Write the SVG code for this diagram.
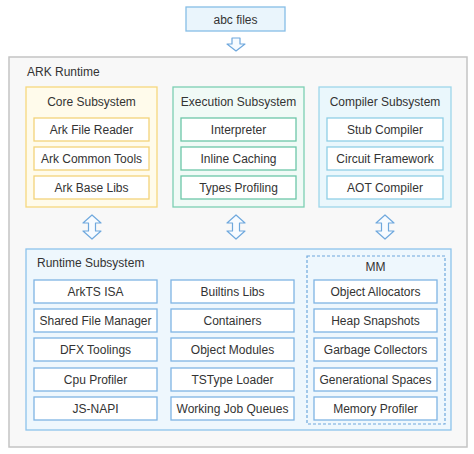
<svg xmlns="http://www.w3.org/2000/svg" width="474" height="454" viewBox="0 0 474 454">
<style>
text{font-family:"Liberation Sans",Arial,sans-serif;font-size:12px;fill:#333;text-anchor:middle}
.t{text-anchor:start}
.ib{fill:#fff;stroke-width:1.3}
.core{stroke:#f3d37a}
.exe{stroke:#6cc7a8}
.cmp{stroke:#8fcfe6}
.rt{stroke:#7fb4e4}
.arr{fill:#f7fbff;stroke:#6fa8dd;stroke-width:1.2;stroke-linejoin:round}
</style>
<rect width="474" height="454" fill="#fff"/>
<g id="abc">
<rect x="186" y="7" width="99" height="24" fill="#eaf5fc" stroke="#86bde6" stroke-width="1.3"/>
<text x="235.5" y="23.5">abc files</text>
</g>
<g id="ark">
<rect x="9" y="57" width="458" height="390" fill="#f8f8f8" stroke="#c4c4c4" stroke-width="1.5"/>
<text class="t" x="27" y="76">ARK Runtime</text>
</g>
<g id="core">
<rect x="26" y="87" width="131" height="120" fill="#fffbeb" stroke="#f6d87e" stroke-width="1.3"/>
<text x="91.5" y="106">Core Subsystem</text>
<rect class="ib core" x="34" y="118" width="115" height="23"/><text x="91.5" y="134">Ark File Reader</text>
<rect class="ib core" x="34" y="147" width="115" height="23"/><text x="91.5" y="163">Ark Common Tools</text>
<rect class="ib core" x="34" y="176" width="115" height="23"/><text x="91.5" y="192">Ark Base Libs</text>
</g>
<g id="execution">
<rect x="173" y="87" width="131" height="120" fill="#f0faf6" stroke="#7ccfb3" stroke-width="1.3"/>
<text x="238.5" y="106">Execution Subsystem</text>
<rect class="ib exe" x="181" y="118" width="115" height="23"/><text x="238.5" y="134">Interpreter</text>
<rect class="ib exe" x="181" y="147" width="115" height="23"/><text x="238.5" y="163">Inline Caching</text>
<rect class="ib exe" x="181" y="176" width="115" height="23"/><text x="238.5" y="192">Types Profiling</text>
</g>
<g id="compiler">
<rect x="319" y="87" width="132" height="120" fill="#eaf7fc" stroke="#9dd6ea" stroke-width="1.3"/>
<text x="385" y="106">Compiler Subsystem</text>
<rect class="ib cmp" x="327" y="118" width="116" height="23"/><text x="385" y="134">Stub Compiler</text>
<rect class="ib cmp" x="327" y="147" width="116" height="23"/><text x="385" y="163">Circuit Framework</text>
<rect class="ib cmp" x="327" y="176" width="116" height="23"/><text x="385" y="192">AOT Compiler</text>
</g>
<g id="runtime">
<rect x="26" y="249" width="425" height="181" fill="#eef7fd" stroke="#8dc3ec" stroke-width="1.3"/>
<text class="t" x="37" y="267">Runtime Subsystem</text>
<rect class="ib rt" x="34" y="280" width="123" height="23"/><text x="95.5" y="296">ArkTS ISA</text>
<rect class="ib rt" x="34" y="309" width="123" height="23"/><text x="95.5" y="325">Shared File Manager</text>
<rect class="ib rt" x="34" y="338" width="123" height="23"/><text x="95.5" y="354">DFX Toolings</text>
<rect class="ib rt" x="34" y="368" width="123" height="23"/><text x="95.5" y="384">Cpu Profiler</text>
<rect class="ib rt" x="34" y="397" width="123" height="23"/><text x="95.5" y="413">JS-NAPI</text>
<rect class="ib rt" x="171" y="280" width="123" height="23"/><text x="232.5" y="296">Builtins Libs</text>
<rect class="ib rt" x="171" y="309" width="123" height="23"/><text x="232.5" y="325">Containers</text>
<rect class="ib rt" x="171" y="338" width="123" height="23"/><text x="232.5" y="354">Object Modules</text>
<rect class="ib rt" x="171" y="368" width="123" height="23"/><text x="232.5" y="384">TSType Loader</text>
<rect class="ib rt" x="171" y="397" width="123" height="23"/><text x="232.5" y="413">Working Job Queues</text>
</g>
<g id="mm">
<rect x="307" y="256" width="138" height="168" fill="none" stroke="#6fa8dd" stroke-width="1.2" stroke-dasharray="3,2"/>
<text x="375.5" y="271">MM</text>
<rect class="ib rt" x="314" y="280" width="123" height="23"/><text x="375.5" y="296">Object Allocators</text>
<rect class="ib rt" x="314" y="309" width="123" height="23"/><text x="375.5" y="325">Heap Snapshots</text>
<rect class="ib rt" x="314" y="338" width="123" height="23"/><text x="375.5" y="354">Garbage Collectors</text>
<rect class="ib rt" x="314" y="368" width="123" height="23"/><text x="375.5" y="384">Generational Spaces</text>
<rect class="ib rt" x="314" y="397" width="123" height="23"/><text x="375.5" y="413">Memory Profiler</text>
</g>
<g id="connectors">
<path class="arr" d="M232,38 L240,38 L240,44 L245,44 L236,51 L227,44 L232,44 Z"/>
<path class="arr" d="M92,215 L101,223 L95.5,223 L95.5,231 L101,231 L92,239 L83,231 L88.5,231 L88.5,223 L83,223 Z"/>
<path class="arr" d="M236,215 L245,223 L239.5,223 L239.5,231 L245,231 L236,239 L227,231 L232.5,231 L232.5,223 L227,223 Z"/>
<path class="arr" d="M385,215 L394,223 L388.5,223 L388.5,231 L394,231 L385,239 L376,231 L381.5,231 L381.5,223 L376,223 Z"/>
</g>
</svg>
